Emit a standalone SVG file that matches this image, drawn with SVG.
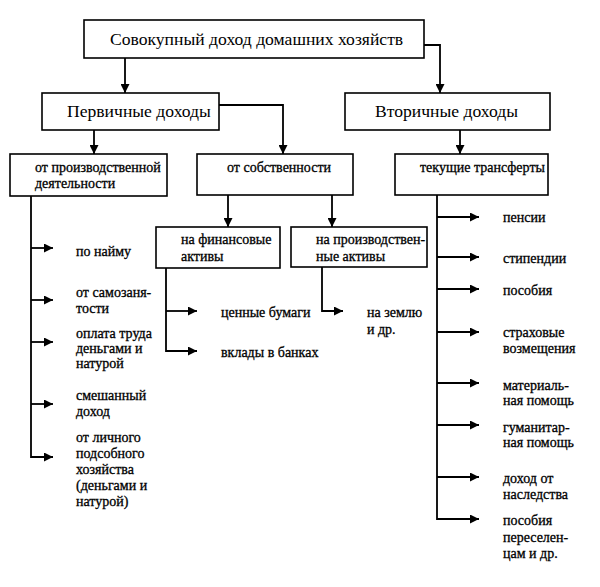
<svg xmlns="http://www.w3.org/2000/svg" width="600" height="587" viewBox="0 0 600 587">
<style>
.box{fill:#fff;stroke:#000;stroke-width:1.6}
.c{fill:none;stroke:#000;stroke-width:1.8}
.h{font-family:'Liberation Serif','Times New Roman',serif;font-size:17.6px;fill:#000}
.t{font-family:'Liberation Serif','Times New Roman',serif;font-size:14px;fill:#000;stroke:#000;stroke-width:0.3}
</style>
<defs>
<marker id="a" viewBox="0 0 10 10" refX="10" refY="5" markerUnits="userSpaceOnUse" markerWidth="11" markerHeight="9" orient="auto">
<path d="M0,0 L10,5 L0,10 z" fill="#000"/>
</marker>
</defs>
<rect width="600" height="587" fill="#fff"/>
<g id="connectors">
<path class="c" d="M125,58 V93" marker-end="url(#a)"/>
<path class="c" d="M424,45 H440 V93" marker-end="url(#a)"/>
<path class="c" d="M94,130 V154" marker-end="url(#a)"/>
<path class="c" d="M219,105 H283 V154" marker-end="url(#a)"/>
<path class="c" d="M460,130 V154" marker-end="url(#a)"/>
<path class="c" d="M228,195 V227" marker-end="url(#a)"/>
<path class="c" d="M332,195 V227" marker-end="url(#a)"/>
<path class="c" d="M31,196 V457 H53" marker-end="url(#a)"/>
<path class="c" d="M31,248 H53" marker-end="url(#a)"/>
<path class="c" d="M31,300 H53" marker-end="url(#a)"/>
<path class="c" d="M31,342 H53" marker-end="url(#a)"/>
<path class="c" d="M31,404 H53" marker-end="url(#a)"/>
<path class="c" d="M166,268 V351 H197" marker-end="url(#a)"/>
<path class="c" d="M166,311 H197" marker-end="url(#a)"/>
<path class="c" d="M322,267 V311 H343" marker-end="url(#a)"/>
<path class="c" d="M437,195 V519 H479" marker-end="url(#a)"/>
<path class="c" d="M437,217 H479" marker-end="url(#a)"/>
<path class="c" d="M437,257 H479" marker-end="url(#a)"/>
<path class="c" d="M437,289 H479" marker-end="url(#a)"/>
<path class="c" d="M437,332 H479" marker-end="url(#a)"/>
<path class="c" d="M437,383 H479" marker-end="url(#a)"/>
<path class="c" d="M437,425 H479" marker-end="url(#a)"/>
<path class="c" d="M437,477 H479" marker-end="url(#a)"/>
</g>
<g id="total">
<rect class="box" x="84" y="20" width="340" height="38"/>
<text class="h" x="110" y="45">Совокупный доход домашних хозяйств</text>
</g>
<g id="primary">
<rect class="box" x="42" y="93" width="177" height="37"/>
<text class="h" x="67" y="117">Первичные доходы</text>
</g>
<g id="secondary">
<rect class="box" x="345" y="93" width="205" height="37"/>
<text class="h" x="375" y="117">Вторичные доходы</text>
</g>
<g id="production">
<rect class="box" x="10" y="154" width="157" height="42"/>
<text class="t" x="35" y="172">от производственной</text>
<text class="t" x="35" y="188">деятельности</text>
</g>
<g id="property">
<rect class="box" x="197" y="154" width="156" height="41"/>
<text class="t" x="227" y="172">от собственности</text>
</g>
<g id="transfers">
<rect class="box" x="395" y="154" width="153" height="41"/>
<text class="t" x="420" y="172">текущие трансферты</text>
</g>
<g id="financial">
<rect class="box" x="156" y="227" width="124" height="41"/>
<text class="t" x="181" y="244">на финансовые</text>
<text class="t" x="181" y="261">активы</text>
</g>
<g id="prodassets">
<rect class="box" x="291" y="227" width="136" height="40"/>
<text class="t" x="316" y="244">на производствен-</text>
<text class="t" x="316" y="261">ные активы</text>
</g>
<g id="left-items">
<text class="t" x="76" y="256">по найму</text>
<text class="t" x="76" y="297">от самозаня-</text>
<text class="t" x="76" y="313">тости</text>
<text class="t" x="76" y="338">оплата труда</text>
<text class="t" x="76" y="353">деньгами и</text>
<text class="t" x="76" y="368">натурой</text>
<text class="t" x="76" y="400">смешанный</text>
<text class="t" x="76" y="416">доход</text>
<text class="t" x="76" y="442">от личного</text>
<text class="t" x="76" y="458">подсобного</text>
<text class="t" x="76" y="474">хозяйства</text>
<text class="t" x="76" y="490">(деньгами и</text>
<text class="t" x="76" y="506">натурой)</text>
</g>
<g id="fin-items">
<text class="t" x="221" y="317">ценные бумаги</text>
<text class="t" x="221" y="357">вклады в банках</text>
</g>
<g id="prod-items">
<text class="t" x="367" y="317">на землю</text>
<text class="t" x="367" y="334">и др.</text>
</g>
<g id="transfer-items">
<text class="t" x="503" y="222">пенсии</text>
<text class="t" x="503" y="263">стипендии</text>
<text class="t" x="503" y="295">пособия</text>
<text class="t" x="503" y="337">страховые</text>
<text class="t" x="503" y="353">возмещения</text>
<text class="t" x="503" y="390">материаль-</text>
<text class="t" x="503" y="405">ная помощь</text>
<text class="t" x="503" y="432">гуманитар-</text>
<text class="t" x="503" y="447">ная помощь</text>
<text class="t" x="503" y="483">доход от</text>
<text class="t" x="503" y="499">наследства</text>
<text class="t" x="503" y="525">пособия</text>
<text class="t" x="503" y="542">переселен-</text>
<text class="t" x="503" y="558">цам и др.</text>
</g>
</svg>
